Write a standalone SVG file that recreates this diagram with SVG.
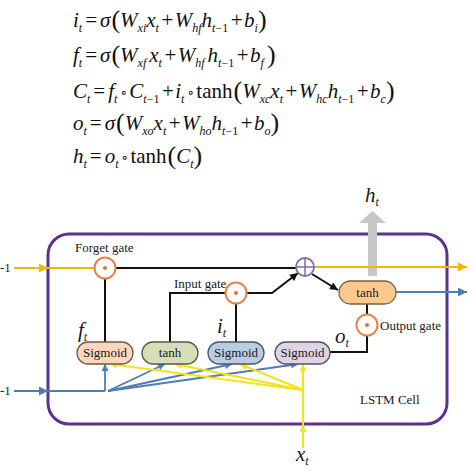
<svg xmlns="http://www.w3.org/2000/svg" width="474" height="474" viewBox="0 0 474 474" font-family="Liberation Serif, Times New Roman, DejaVu Serif, serif">
<defs>
<style>
.eq{font-size:21px;fill:#111}
.it{font-style:italic}
.sub{font-size:12px}
.par{font-size:26px}
.ring{font-size:14px}
.lbl{font-size:13px;fill:#1a1a1a}
.var{font-size:21px;font-style:italic;fill:#1a1a1a}
.box{stroke-width:1.3}
.btxt{font-size:13px;fill:#1a1a1a;text-anchor:middle}
.gate{fill:#fff;stroke:#e8834a;stroke-width:2}
.dot{fill:#e2703a}
.k{stroke:#111;stroke-width:2;fill:none}
.cy{stroke:#f2b705;stroke-width:2;fill:none}
.xy{stroke:#f3e41a;stroke-width:2;fill:none}
.bl{stroke:#4f7db3;stroke-width:1.8;fill:none}
</style>
<marker id="aGold" viewBox="0 0 10 10" refX="10" refY="5" markerWidth="11" markerHeight="9" markerUnits="userSpaceOnUse" orient="auto"><path d="M0,0 L10,5 L0,10 z" fill="#f2b705"/></marker>
<marker id="aBlue" viewBox="0 0 10 10" refX="10" refY="5" markerWidth="10" markerHeight="9" markerUnits="userSpaceOnUse" orient="auto"><path d="M0,0 L10,5 L0,10 z" fill="#4f7db3"/></marker>
<marker id="aBlueS" viewBox="0 0 10 10" refX="10" refY="5" markerWidth="8" markerHeight="7" markerUnits="userSpaceOnUse" orient="auto"><path d="M0,0 L10,5 L0,10 z" fill="#4f7db3"/></marker>
<marker id="aYel" viewBox="0 0 10 10" refX="10" refY="5" markerWidth="8" markerHeight="7" markerUnits="userSpaceOnUse" orient="auto"><path d="M0,0 L10,5 L0,10 z" fill="#f3e41a"/></marker>
<marker id="aBlk" viewBox="0 0 10 10" refX="10" refY="5" markerWidth="10" markerHeight="8" markerUnits="userSpaceOnUse" orient="auto"><path d="M0,0 L10,5 L0,10 z" fill="#111"/></marker>
</defs>
<rect x="0" y="0" width="474" height="474" fill="#fff"/>

<g id="equations">
<text class="eq" x="73" y="27"><tspan class="it">i</tspan><tspan class="sub it" dy="5">t</tspan><tspan dy="-5" dx="3">=</tspan><tspan class="it" dx="3">σ</tspan><tspan class="par" dx="1" dy="1">(</tspan><tspan class="it" dy="-1">W</tspan><tspan class="sub it" dy="5">xi</tspan><tspan class="it" dy="-5">x</tspan><tspan class="sub it" dy="5">t</tspan><tspan dy="-5" dx="2.5">+</tspan><tspan class="it" dx="1.5">W</tspan><tspan class="sub it" dy="5">hf</tspan><tspan class="it" dy="-5">h</tspan><tspan class="sub" dy="5"><tspan class="it">t</tspan>−1</tspan><tspan dy="-5" dx="2.5">+</tspan><tspan class="it" dx="1.5">b</tspan><tspan class="sub it" dy="5">i</tspan><tspan class="par" dy="-4">)</tspan></text>
<text class="eq" x="73" y="62"><tspan class="it">f</tspan><tspan class="sub it" dy="5">t</tspan><tspan dy="-5" dx="3">=</tspan><tspan class="it" dx="3">σ</tspan><tspan class="par" dx="1" dy="1">(</tspan><tspan class="it" dy="-1">W</tspan><tspan class="sub it" dy="5">xf</tspan><tspan class="it" dy="-5" dx="3">x</tspan><tspan class="sub it" dy="5">t</tspan><tspan dy="-5" dx="2.5">+</tspan><tspan class="it" dx="1.5">W</tspan><tspan class="sub it" dy="5">hf</tspan><tspan class="it" dy="-5" dx="3">h</tspan><tspan class="sub" dy="5"><tspan class="it">t</tspan>−1</tspan><tspan dy="-5" dx="2.5">+</tspan><tspan class="it" dx="1.5">b</tspan><tspan class="sub it" dy="5">f</tspan><tspan class="par" dy="-4" dx="3">)</tspan></text>
<text class="eq" x="73" y="98"><tspan class="it">C</tspan><tspan class="sub it" dy="5">t</tspan><tspan dy="-5" dx="3">=</tspan><tspan class="it" dx="3">f</tspan><tspan class="sub it" dy="5">t</tspan><tspan class="ring" dy="-6" dx="3">∘</tspan><tspan class="it" dy="1" dx="2">C</tspan><tspan class="sub" dy="5"><tspan class="it">t</tspan>−1</tspan><tspan dy="-5" dx="2.5">+</tspan><tspan class="it" dx="1.5">i</tspan><tspan class="sub it" dy="5">t</tspan><tspan class="ring" dy="-6" dx="3">∘</tspan><tspan dy="1" dx="2">tanh</tspan><tspan class="par" dx="1" dy="1">(</tspan><tspan class="it" dy="-1">W</tspan><tspan class="sub it" dy="5">xc</tspan><tspan class="it" dy="-5">x</tspan><tspan class="sub it" dy="5">t</tspan><tspan dy="-5" dx="2.5">+</tspan><tspan class="it" dx="1.5">W</tspan><tspan class="sub it" dy="5">hc</tspan><tspan class="it" dy="-5">h</tspan><tspan class="sub" dy="5"><tspan class="it">t</tspan>−1</tspan><tspan dy="-5" dx="2.5">+</tspan><tspan class="it" dx="1.5">b</tspan><tspan class="sub it" dy="5">c</tspan><tspan class="par" dy="-4">)</tspan></text>
<text class="eq" x="73" y="130"><tspan class="it">o</tspan><tspan class="sub it" dy="5">t</tspan><tspan dy="-5" dx="3">=</tspan><tspan class="it" dx="3">σ</tspan><tspan class="par" dx="1" dy="1">(</tspan><tspan class="it" dy="-1">W</tspan><tspan class="sub it" dy="5">xo</tspan><tspan class="it" dy="-5">x</tspan><tspan class="sub it" dy="5">t</tspan><tspan dy="-5" dx="2.5">+</tspan><tspan class="it" dx="1.5">W</tspan><tspan class="sub it" dy="5">ho</tspan><tspan class="it" dy="-5">h</tspan><tspan class="sub" dy="5"><tspan class="it">t</tspan>−1</tspan><tspan dy="-5" dx="2.5">+</tspan><tspan class="it" dx="1.5">b</tspan><tspan class="sub it" dy="5">o</tspan><tspan class="par" dy="-4">)</tspan></text>
<text class="eq" x="73" y="163"><tspan class="it">h</tspan><tspan class="sub it" dy="5">t</tspan><tspan dy="-5" dx="3">=</tspan><tspan class="it" dx="3">o</tspan><tspan class="sub it" dy="5">t</tspan><tspan class="ring" dy="-6" dx="3">∘</tspan><tspan dy="1" dx="2">tanh</tspan><tspan class="par" dx="1" dy="1">(</tspan><tspan class="it" dy="-1">C</tspan><tspan class="sub it" dy="5">t</tspan><tspan class="par" dy="-4">)</tspan></text>
</g>

<g id="cell">
<rect x="48" y="234" width="399" height="190" rx="21" fill="none" stroke="#5b3391" stroke-width="3"/>
<text class="lbl" x="360" y="404">LSTM Cell</text>
</g>

<g id="output-arrow">
<polygon points="368,276 377,276 377,223 386,223 372.5,211 359,223 368,223" fill="#c8c8c8"/>
</g>

<g id="connectors">
<path class="cy" d="M14,268 L48,268 L94,268" marker-mid="url(#aGold)"/>
<path class="k" d="M116,268 L296,268"/>
<path class="cy" d="M314,267 L467,267" marker-end="url(#aGold)"/>
<path class="k" d="M312,274 L338,290" marker-end="url(#aBlk)"/>
<path class="k" d="M247,293 L272,293 L298,273" marker-end="url(#aBlk)"/>
<path class="k" d="M170,342 L170,293 L225,293"/>
<path class="k" d="M236,342 L236,304"/>
<path class="k" d="M105,342 L105,279"/>
<path class="k" d="M367,303 L367,314"/>
<path class="k" d="M367,336 L367,352 L330,352"/>
<path class="bl" d="M396,292 L467,292" marker-end="url(#aBlue)"/>
<path class="bl" d="M14,391 L48,391 L105,391" marker-mid="url(#aBlue)"/>
<path class="bl" d="M105,391 L105,364" marker-end="url(#aBlueS)"/>
<path class="bl" d="M108,391 L165,364" marker-end="url(#aBlueS)"/>
<path class="bl" d="M108,391 L232,364" marker-end="url(#aBlueS)"/>
<path class="bl" d="M108,391 L298,364" marker-end="url(#aBlueS)"/>
<path class="xy" d="M303,448 L303,425 L303,364" marker-mid="url(#aYel)" marker-end="url(#aYel)"/>
<path class="xy" d="M303,390 L110,364" marker-end="url(#aYel)"/>
<path class="xy" d="M303,390 L175,364" marker-end="url(#aYel)"/>
<path class="xy" d="M303,390 L240,364" marker-end="url(#aYel)"/>
</g>

<g id="forget-gate">
<circle class="gate" cx="105" cy="268" r="10.5"/><circle class="dot" cx="105" cy="268" r="2"/>
<text class="lbl" x="75" y="252">Forget gate</text>
</g>
<g id="input-gate">
<circle class="gate" cx="236" cy="293" r="10.5"/><circle class="dot" cx="236" cy="293" r="2"/>
<text class="lbl" x="174" y="288">Input gate</text>
</g>
<g id="output-gate">
<circle class="gate" cx="367" cy="325" r="10.5"/><circle class="dot" cx="367" cy="325" r="2"/>
<text class="lbl" x="380" y="330">Output gate</text>
</g>
<g id="plus">
<circle cx="305" cy="267" r="9" fill="#fff" stroke="#7d6f9e" stroke-width="1.8"/>
<path d="M296,267 L314,267 M305,258 L305,276" stroke="#7d6f9e" stroke-width="1.5"/>
</g>
<g id="tanh-out">
<rect class="box" x="339" y="281" width="57" height="23" rx="11.5" fill="#fbc98e" stroke="#7a6040"/>
<text class="btxt" x="367.5" y="297">tanh</text>
</g>
<g id="sigmoid-f">
<rect class="box" x="77" y="342" width="56" height="22" rx="11" fill="#fcd6bd" stroke="#6e5a4a"/>
<text class="btxt" x="105" y="357">Sigmoid</text>
</g>
<g id="tanh-c">
<rect class="box" x="142" y="342" width="56" height="22" rx="11" fill="#d8ddb9" stroke="#5a5a4a"/>
<text class="btxt" x="170" y="357">tanh</text>
</g>
<g id="sigmoid-i">
<rect class="box" x="208" y="342" width="56" height="22" rx="11" fill="#b9cce4" stroke="#4a5568"/>
<text class="btxt" x="236" y="357">Sigmoid</text>
</g>
<g id="sigmoid-o">
<rect class="box" x="275" y="342" width="55" height="22" rx="11" fill="#ddd4e6" stroke="#555060"/>
<text class="btxt" x="302.5" y="357">Sigmoid</text>
</g>

<g id="labels">
<text class="var" x="78" y="337">f<tspan font-size="12" dy="4">t</tspan></text>
<text class="var" x="217" y="333">i<tspan font-size="12" dy="4">t</tspan></text>
<text class="var" x="335" y="343">o<tspan font-size="12" dy="4">t</tspan></text>
<text class="var" x="365" y="202">h<tspan font-size="12" dy="4">t</tspan></text>
<text class="var" x="296" y="461">x<tspan font-size="12" dy="4">t</tspan></text>
<text class="lbl" x="0" y="272" font-size="11">-1</text>
<text class="lbl" x="0" y="395" font-size="11">-1</text>
</g>
</svg>
